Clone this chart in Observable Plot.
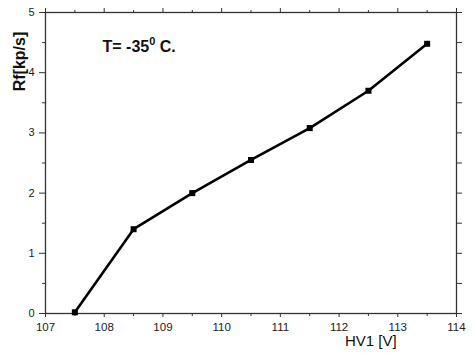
<!DOCTYPE html>
<html>
<head>
<meta charset="utf-8">
<script src="https://cdn.jsdelivr.net/npm/d3@7"></script>
<script src="https://cdn.jsdelivr.net/npm/@observablehq/plot@0.6"></script>
<style>
  html, body { margin: 0; padding: 0; background: #fff; }
</style>
</head>
<body>
<div id="chart"></div>
<script>
// Data
const hv1 = [107.5, 108.5, 109.5, 110.5, 111.5, 112.5, 113.5];
const rf = [0.02, 1.4, 2.0, 2.55, 3.08, 3.7, 4.48];

// Axis ticks
const xMajor = [107, 108, 109, 110, 111, 112, 113, 114];
const xMinor = [107.5, 108.5, 109.5, 110.5, 111.5, 112.5, 113.5];
const yMajor = [0, 1, 2, 3, 4, 5];
const yMinor = [0.5, 1.5, 2.5, 3.5, 4.5];

// Texts
const xLabel = "HV1 [V]";
const yLabel = "Rf[kp/s]";
const annotation = ["T= -35", "0", " C."];

const data = hv1.map((v, i) => ({hv: v, rf: rf[i]}));
const noText = () => "";
const intFmt = d3.format("d");
const axisColor = "#333";

const svg = Plot.plot({
  width: 474,
  height: 353,
  marginLeft: 45,
  marginRight: 18,
  marginTop: 12,
  marginBottom: 40,
  style: {fontFamily: "'Liberation Sans', Arial, sans-serif", color: "#222", background: "#fff"},
  x: {domain: [107, 114]},
  y: {domain: [0, 5]},
  marks: [
    Plot.axisX({anchor: "bottom", ticks: xMajor, tickFormat: intFmt, tickSize: 4, tickPadding: 5, fontSize: 11.5, label: null, stroke: axisColor}),
    Plot.axisX({anchor: "bottom", ticks: xMinor, tickSize: 3, tickFormat: noText, label: null, stroke: axisColor}),
    Plot.axisX({anchor: "top", ticks: xMajor, tickSize: 5, tickFormat: noText, label: null, stroke: axisColor}),
    Plot.axisX({anchor: "top", ticks: xMinor, tickSize: 3, tickFormat: noText, label: null, stroke: axisColor}),
    Plot.axisY({anchor: "left", ticks: yMajor, tickFormat: intFmt, tickSize: 6, tickPadding: 5, fontSize: 11, label: null, stroke: axisColor}),
    Plot.axisY({anchor: "left", ticks: yMinor, tickSize: 3, tickFormat: noText, label: null, stroke: axisColor}),
    Plot.axisY({anchor: "right", ticks: yMajor, tickSize: 5, tickFormat: noText, label: null, stroke: axisColor}),
    Plot.axisY({anchor: "right", ticks: yMinor, tickSize: 5, tickFormat: noText, label: null, stroke: axisColor}),
    Plot.frame({stroke: axisColor, strokeWidth: 1.3}),
    Plot.line(data, {x: "hv", y: "rf", stroke: "#000", strokeWidth: 2.6}),
    Plot.dot(data, {x: "hv", y: "rf", symbol: "square", r: 3.4, fill: "#000", stroke: "none"}),
    Plot.text([annotation.join("")], {frameAnchor: "top-left", dx: 57, dy: 28, textAnchor: "start", fontSize: 16, fontWeight: "bold", fill: "#111"}),
    Plot.text([yLabel], {frameAnchor: "top-left", dx: -32, dy: 49, rotate: -90, textAnchor: "middle", fontSize: 16, fontWeight: "bold", fill: "#111"}),
    Plot.text([xLabel], {frameAnchor: "bottom", x: () => 112.54, dy: 32, textAnchor: "middle", fontSize: 15, fill: "#111"})
  ]
});

// Superscript in annotation
d3.select(svg).selectAll("text").filter(function() { return this.textContent === annotation.join(""); })
  .each(function() {
    const t = d3.select(this);
    t.text(null);
    t.append("tspan").text(annotation[0]);
    t.append("tspan").attr("dy", -6.5).attr("font-size", 11).text(annotation[1]);
    t.append("tspan").attr("dy", 6.5).text(annotation[2]);
  });

document.getElementById("chart").appendChild(svg);
</script>
</body>
</html>
